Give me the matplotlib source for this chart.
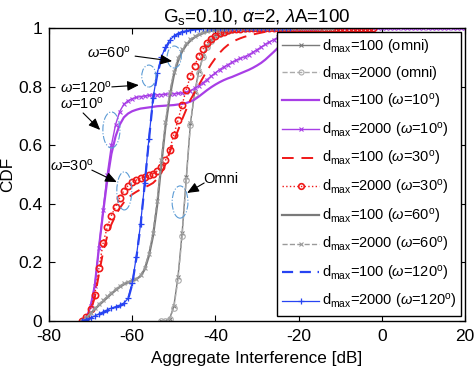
import numpy as np
import matplotlib
matplotlib.use("Agg")
import matplotlib.pyplot as plt
from matplotlib.patches import Ellipse

plt.rcParams['font.family'] = ['Liberation Sans', 'DejaVu Sans']
plt.rcParams['mathtext.fontset'] = 'custom'
plt.rcParams['mathtext.rm'] = 'Liberation Sans'
plt.rcParams['mathtext.it'] = 'Liberation Sans:italic'
plt.rcParams['mathtext.bf'] = 'Liberation Sans:bold'
plt.rcParams['axes.unicode_minus'] = False

# ---------------- data (1 dB steps) ----------------
x_start_main = -72
x_start_omni = -53

omni_d100 = [0, 0.001, 0.008, 0.05, 0.15, 0.30, 0.49, 0.675, 0.78, 0.852, 0.903, 0.937,
             0.958, 0.972, 0.981, 0.987, 0.991, 0.994, 0.996, 0.997, 0.998, 0.999] + [1.0] * 20
omni_d2000 = [0, 0.0, 0.006, 0.045, 0.14, 0.29, 0.48, 0.67, 0.775, 0.848, 0.90, 0.935,
              0.957, 0.971, 0.98, 0.986, 0.99, 0.993, 0.995, 0.997, 0.998, 0.999] + [1.0] * 20

w10_d100 = [0, 0.01, 0.05, 0.12, 0.25, 0.37, 0.48, 0.57, 0.63, 0.67, 0.695, 0.708, 0.716,
            0.721, 0.725, 0.727, 0.729, 0.731, 0.733, 0.734, 0.735, 0.736, 0.737, 0.739,
            0.741, 0.744, 0.749, 0.756, 0.766, 0.777, 0.788, 0.798, 0.807, 0.815, 0.822,
            0.828, 0.833, 0.839, 0.845, 0.851, 0.857, 0.864, 0.872, 0.881, 0.892, 0.905,
            0.918, 0.932, 0.945, 0.956, 0.965, 0.972, 0.978, 0.983, 0.987, 0.99, 0.993,
            0.995, 0.997, 0.998, 0.999] + [1.0] * 32
w10_d2000 = [0, 0.01, 0.05, 0.12, 0.25, 0.38, 0.50, 0.60, 0.67, 0.715, 0.74, 0.752, 0.759,
             0.763, 0.766, 0.768, 0.77, 0.771, 0.772, 0.773, 0.774, 0.775, 0.776, 0.777,
             0.778, 0.781, 0.786, 0.794, 0.803, 0.813, 0.824, 0.836, 0.847, 0.858, 0.867,
             0.875, 0.883, 0.89, 0.896, 0.902, 0.909, 0.917, 0.926, 0.935, 0.944, 0.952,
             0.96, 0.968, 0.975, 0.981, 0.986, 0.99, 0.993, 0.995, 0.997, 0.998, 0.999] + [1.0] * 36

w30_d100 = [0, 0.012, 0.035, 0.08, 0.16, 0.235, 0.29, 0.33, 0.36, 0.385, 0.405, 0.42, 0.432,
            0.441, 0.449, 0.456, 0.463, 0.471, 0.485, 0.505, 0.535, 0.575, 0.615, 0.65,
            0.688, 0.722, 0.755, 0.78, 0.805, 0.83, 0.855, 0.877, 0.897, 0.915, 0.93,
            0.942, 0.952, 0.959, 0.965, 0.97, 0.974, 0.978, 0.981, 0.984, 0.987, 0.989,
            0.991, 0.993, 0.995, 0.996, 0.997, 0.998, 0.999] + [1.0] * 18
w30_d2000 = [0, 0.015, 0.04, 0.09, 0.18, 0.265, 0.32, 0.36, 0.39, 0.42, 0.445, 0.462, 0.473,
             0.481, 0.487, 0.492, 0.497, 0.503, 0.512, 0.526, 0.548, 0.585, 0.635, 0.685,
             0.738, 0.79, 0.836, 0.872, 0.903, 0.928, 0.948, 0.963, 0.974, 0.982, 0.988,
             0.992, 0.995, 0.997, 0.998, 0.999] + [1.0] * 31

w60_d100 = [0, 0.01, 0.025, 0.04, 0.054, 0.067, 0.08, 0.093, 0.105, 0.116, 0.125, 0.132,
            0.137, 0.143, 0.153, 0.176, 0.222, 0.29, 0.395, 0.535, 0.665, 0.765, 0.838,
            0.887, 0.92, 0.942, 0.957, 0.968, 0.976, 0.982, 0.987, 0.99, 0.993, 0.995,
            0.997, 0.998, 0.999] + [1.0] * 24
w60_d2000 = [0, 0.012, 0.028, 0.044, 0.058, 0.071, 0.084, 0.097, 0.109, 0.12, 0.128, 0.134,
             0.139, 0.145, 0.156, 0.182, 0.23, 0.30, 0.41, 0.55, 0.68, 0.78, 0.85, 0.897,
             0.928, 0.948, 0.962, 0.972, 0.979, 0.985, 0.989, 0.992, 0.994, 0.996, 0.997,
             0.998, 0.999] + [1.0] * 24

w120_d100 = [0, 0.004, 0.009, 0.015, 0.021, 0.028, 0.034, 0.04, 0.046, 0.051, 0.058, 0.073,
             0.125, 0.215, 0.325, 0.465, 0.615, 0.755, 0.84, 0.895, 0.93, 0.955, 0.97,
             0.98, 0.986, 0.99, 0.993, 0.995, 0.997, 0.998, 0.999] + [1.0] * 20
w120_d2000 = [0, 0.004, 0.01, 0.017, 0.024, 0.031, 0.038, 0.044, 0.049, 0.054, 0.061, 0.077,
              0.13, 0.22, 0.33, 0.47, 0.62, 0.76, 0.845, 0.90, 0.935, 0.958, 0.972, 0.981,
              0.987, 0.991, 0.994, 0.996, 0.998, 0.999] + [1.0] * 21

labels = [r'd$_{\mathrm{max}}$=100 (omni)',
          r'd$_{\mathrm{max}}$=2000 (omni)',
          r'd$_{\mathrm{max}}$=100 ($\omega$=10$^{\mathrm{o}}$)',
          r'd$_{\mathrm{max}}$=2000 ($\omega$=10$^{\mathrm{o}}$)',
          r'd$_{\mathrm{max}}$=100 ($\omega$=30$^{\mathrm{o}}$)',
          r'd$_{\mathrm{max}}$=2000 ($\omega$=30$^{\mathrm{o}}$)',
          r'd$_{\mathrm{max}}$=100 ($\omega$=60$^{\mathrm{o}}$)',
          r'd$_{\mathrm{max}}$=2000 ($\omega$=60$^{\mathrm{o}}$)',
          r'd$_{\mathrm{max}}$=100 ($\omega$=120$^{\mathrm{o}}$)',
          r'd$_{\mathrm{max}}$=2000 ($\omega$=120$^{\mathrm{o}}$)']

xticks = [-80, -60, -40, -20, 0, 20]
yticks = [0, 0.2, 0.4, 0.6, 0.8, 1]
ytick_labels = ['0', '0.2', '0.4', '0.6', '0.8', '1']

# ---------------- styles ----------------
GRAY = '#7a7a7a'
LGRAY = '#ababab'
PURPLE = '#a83ee6'
RED = '#f01818'
BLUE = '#2744f2'
ELL = '#5b9bd5'

series = [
    (x_start_omni, omni_d100, dict(color=GRAY, ls='-', lw=1.0, marker='x', ms=3.5, mew=0.8)),
    (x_start_omni, omni_d2000, dict(color=LGRAY, ls='--', lw=1.0, marker='o', ms=4, mfc='none', mew=0.8)),
    (x_start_main, w10_d100, dict(color=PURPLE, ls='-', lw=1.6)),
    (x_start_main, w10_d2000, dict(color=PURPLE, ls='-', lw=1.0, marker='x', ms=3.5, mew=0.8)),
    (x_start_main, w30_d100, dict(color=RED, ls=(0, (6, 4)), lw=1.4)),
    (x_start_main, w30_d2000, dict(color=RED, ls=':', lw=1.0, marker='o', ms=4.5, mfc='none', mew=1.2)),
    (x_start_main, w60_d100, dict(color=GRAY, ls='-', lw=1.6)),
    (x_start_main, w60_d2000, dict(color='#9a9a9a', ls='--', lw=1.0, marker='x', ms=3.5, mew=0.8)),
    (x_start_main, w120_d100, dict(color=BLUE, ls=(0, (5, 3)), lw=1.6)),
    (x_start_main, w120_d2000, dict(color=BLUE, ls='-', lw=0.9, marker='+', ms=5, mew=0.9)),
]

fig = plt.figure(figsize=(4.74, 3.70), dpi=100)
ax = fig.add_axes([49 / 474, 1 - 321 / 370, (465 - 49) / 474, (321 - 28) / 370])

for (x0, y, st), lab in zip(series, labels):
    x = np.arange(x0, x0 + len(y))
    ax.plot(x, y, label=lab, **st)

ax.set_xlim(-80, 20)
ax.set_ylim(0, 1)
ax.set_xticks(xticks)
ax.set_yticks(yticks)
ax.set_yticklabels(ytick_labels)
ax.tick_params(direction='in', top=True, right=True, labelsize=12.5, length=4, width=0.8)
ax.tick_params(axis='x', pad=6)
ax.tick_params(axis='y', pad=5)
for s in ax.spines.values():
    s.set_linewidth(1.0)

ax.set_xlabel('Aggregate Interference [dB]', fontsize=12.3, labelpad=5)
ax.set_ylabel('CDF', fontsize=12.3, labelpad=2)
ax.set_title(r'G$_{\mathrm{s}}$=0.10, $\alpha$=2, $\lambda$A=100', fontsize=13.5, pad=4)

leg = ax.legend(loc='upper right', fontsize=10.5, frameon=True, fancybox=False,
                framealpha=1, edgecolor='black', borderaxespad=0.25,
                handlelength=2.5, handletextpad=0.2, labelspacing=0.66,
                borderpad=0.35, markerscale=0.9)
leg.get_frame().set_linewidth(1.0)
leg.set_zorder(5)

# ellipses (dash-dot) marking groups
ellipses = [(-49.9, 0.901, 3.4, 0.075),
            (-56.0, 0.836, 3.4, 0.075),
            (-65.0, 0.652, 4.1, 0.123),
            (-61.9, 0.444, 3.6, 0.13),
            (-48.5, 0.406, 3.8, 0.11)]
for cx, cy, w, h in ellipses:
    ax.add_patch(Ellipse((cx, cy), w, h, fill=False, ec=ELL, ls='-.', lw=0.8, zorder=4))

arrow = dict(arrowstyle='-|>,head_length=0.7,head_width=0.3', color='black', lw=0.8,
             shrinkA=0, shrinkB=0)
notes = [(r'$\omega$=60$^{\mathrm{o}}$', (-65.6, 0.915), (-59.3, 0.904), (-50.4, 0.887)),
         (r'$\omega$=120$^{\mathrm{o}}$', (-71.1, 0.795), (-64.9, 0.799), (-58.4, 0.805)),
         (r'$\omega$=10$^{\mathrm{o}}$', (-72.1, 0.741), (-71.8, 0.71), (-67.7, 0.652)),
         (r'$\omega$=30$^{\mathrm{o}}$', (-74.5, 0.529), (-69.7, 0.515), (-63.7, 0.474)),
         ('Omni', (-38.7, 0.485), (-42.7, 0.471), (-46.8, 0.437))]
for txt, tpos, tail, tip in notes:
    ax.text(tpos[0], tpos[1], txt, fontsize=10.5, ha='center', va='center', zorder=6)
    ax.annotate('', xy=tip, xytext=tail, arrowprops=arrow, zorder=6)

fig.savefig('out.png', dpi=100)
